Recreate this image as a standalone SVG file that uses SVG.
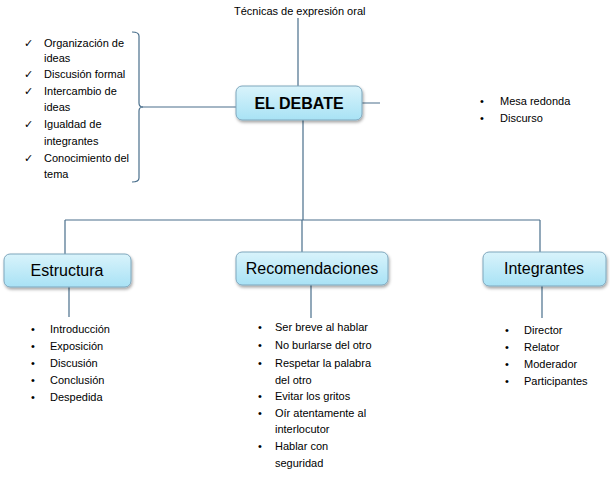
<svg xmlns="http://www.w3.org/2000/svg" width="610" height="478" viewBox="0 0 610 478">
<defs>
<linearGradient id="g" x1="0" y1="0" x2="0" y2="1"><stop offset="0" stop-color="#d9f3fb"/><stop offset="1" stop-color="#a8e2f5"/></linearGradient>
<filter id="s" x="-10%" y="-20%" width="130%" height="160%"><feDropShadow dx="1" dy="2" stdDeviation="1.5" flood-color="#000" flood-opacity="0.35"/></filter>
</defs>
<style>
.box{fill:url(#g);stroke:#7fa7bd;stroke-width:1}
.ln{stroke:#4a6f8c;stroke-width:1.2;fill:none}
.t{font-family:"Liberation Sans",Arial,sans-serif;font-size:11px;fill:#000}
.h{font-family:"Liberation Sans",Arial,sans-serif;font-size:16px;fill:#000;text-anchor:middle}
</style>
<rect width="610" height="478" fill="#fff"/>
<g id="connectors">
<path class="ln" d="M298 18V86M142 107H236M362 103H380M303 120V220M65 220H540M65 220V254M302 220V252M540 220V252M69 287V317M311 285V318M542 286V318"/>
<path class="ln" d="M132 32Q139 32 139 36V103Q139 107 143 107Q139 107 139 111V178Q139 182 132 182"/>
</g>
<g id="title"><text class="t" x="234" y="15">Técnicas de expresión oral</text></g>
<g id="debate"><rect class="box" x="236" y="86" width="126" height="34" rx="6" filter="url(#s)"/><text class="h" x="299" y="109" font-weight="bold">EL DEBATE</text></g>
<g id="caracteristicas" class="t">
<text x="24" y="47">✓</text><text x="44" y="47">Organización de</text><text x="44" y="62">ideas</text>
<text x="24" y="78">✓</text><text x="44" y="78">Discusión formal</text>
<text x="24" y="95">✓</text><text x="44" y="95">Intercambio de</text><text x="44" y="111">ideas</text>
<text x="24" y="128">✓</text><text x="44" y="128">Igualdad de</text><text x="44" y="145">integrantes</text>
<text x="24" y="162">✓</text><text x="44" y="162">Conocimiento del</text><text x="44" y="178">tema</text>
</g>
<g id="tipos" class="t"><text x="480" y="105">•</text><text x="500" y="105">Mesa redonda</text><text x="480" y="122">•</text><text x="500" y="122">Discurso</text></g>
<g id="estructura"><rect class="box" x="4" y="254" width="127" height="33" rx="6" filter="url(#s)"/><text class="h" x="67" y="276">Estructura</text></g>
<g id="recomendaciones"><rect class="box" x="236" y="252" width="152" height="33" rx="6" filter="url(#s)"/><text class="h" x="312" y="274">Recomendaciones</text></g>
<g id="integrantes"><rect class="box" x="483" y="252" width="123" height="34" rx="6" filter="url(#s)"/><text class="h" x="544" y="274">Integrantes</text></g>
<g id="lista-estructura" class="t">
<text x="31" y="333">•</text><text x="50" y="333">Introducción</text>
<text x="31" y="350">•</text><text x="50" y="350">Exposición</text>
<text x="31" y="367">•</text><text x="50" y="367">Discusión</text>
<text x="31" y="384">•</text><text x="50" y="384">Conclusión</text>
<text x="31" y="401">•</text><text x="50" y="401">Despedida</text>
</g>
<g id="lista-recomendaciones" class="t">
<text x="258" y="331">•</text><text x="275" y="331">Ser breve al hablar</text>
<text x="258" y="349">•</text><text x="275" y="349">No burlarse del otro</text>
<text x="258" y="367">•</text><text x="275" y="367">Respetar la palabra</text><text x="275" y="384">del otro</text>
<text x="258" y="400">•</text><text x="275" y="400">Evitar los gritos</text>
<text x="258" y="417">•</text><text x="275" y="417">Oír atentamente al</text><text x="275" y="433">interlocutor</text>
<text x="258" y="450">•</text><text x="275" y="450">Hablar con</text><text x="275" y="467">seguridad</text>
</g>
<g id="lista-integrantes" class="t">
<text x="505" y="334">•</text><text x="524" y="334">Director</text>
<text x="505" y="351">•</text><text x="524" y="351">Relator</text>
<text x="505" y="368">•</text><text x="524" y="368">Moderador</text>
<text x="505" y="385">•</text><text x="524" y="385">Participantes</text>
</g>
</svg>
